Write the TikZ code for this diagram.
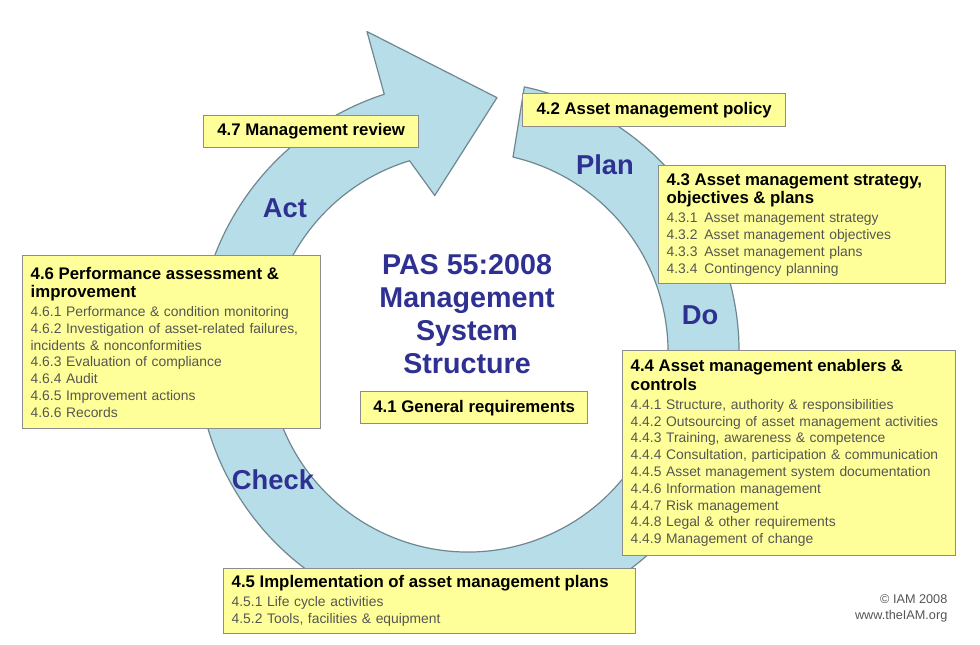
\documentclass[tikz,border=0pt]{standalone}
\usepackage{fontspec}
\setmainfont{Liberation Sans}
\usepackage{xcolor}
\usepackage{tikz}
\usetikzlibrary{positioning}
\definecolor{PasRing}{HTML}{B7DEE8}
\definecolor{PasRingEdge}{HTML}{6F8791}
\definecolor{PasYellow}{HTML}{FFFF99}
\definecolor{PasEdge}{HTML}{8C8C8C}
\definecolor{PasNavy}{HTML}{2E3192}
\definecolor{PasGrey}{HTML}{555555}
\newcommand{\chead}[1]{{\color{black}\fontsize{12.6}{12.6}\selectfont\bfseries #1}}
\tikzset{
  clausebox/.style={draw=PasEdge,line width=1pt,fill=PasYellow,anchor=north west,inner xsep=6pt,inner ysep=0pt,align=left,text=PasGrey,font=\fontsize{10.4}{12.6}\selectfont},
  headbox/.style={clausebox,align=center,minimum height=24pt},
  phaselabel/.style={text=PasNavy,font=\fontsize{20.5}{24}\selectfont\bfseries},
  pastitle/.style={text=PasNavy,align=center,font=\fontsize{21.5}{24.75}\selectfont\bfseries},
  ringarrow/.style={fill=PasRing,draw=PasRingEdge,line width=0.9pt,line join=round},
  creditnote/.style={text=PasGrey,align=right,anchor=east,font=\fontsize{9.5}{12}\selectfont}
}

\begin{document}
\begin{tikzpicture}[x=0.75pt,y=0.75pt]
\useasboundingbox[fill=white] (0,0) rectangle (980,-645);
\begin{scope}[shift={(468,-352)}]
\path[ringarrow] (78:271) arc[start angle=78,end angle=-252,radius=271] -- (107.5:336) -- (83.5:256) -- (102:160) -- (-253:200) arc[start angle=-253,end angle=77,radius=200] -- cycle;
\end{scope}
\node[pastitle] (title) at (467,-314) {PAS 55:2008\\Management\\System\\Structure};
\node[phaselabel] (plan) at (605,-165) {Plan};
\node[phaselabel] (do) at (700,-315) {Do};
\node[phaselabel] (check) at (273,-480) {Check};
\node[phaselabel] (act) at (285,-208) {Act};
\node[headbox,text width=149.25pt] (c47) at (203,-115) {\chead{4.7 Management review}};
\node[headbox,text width=185.25pt,minimum height=24.75pt] (c42) at (522,-93) {\chead{4.2 Asset management policy}};
\node[headbox,text width=158.25pt] (c41) at (360,-391) {\chead{4.1 General requirements}};
\node[clausebox,text width=203.25pt,minimum height=88.5pt] (c43) at (658,-165) {\chead{4.3 Asset management strategy,}\\[1.3pt]
\chead{objectives \& plans}\\[1.6pt]
4.3.1\enspace Asset management strategy\\
4.3.2\enspace Asset management objectives\\
4.3.3\enspace Asset management plans\\
4.3.4\enspace Contingency planning};
\node[clausebox,text width=211.5pt,minimum height=129.75pt] (c46) at (22,-255) {\chead{4.6 Performance assessment \&}\\[1.3pt]
\chead{improvement}\\[1.6pt]
4.6.1 Performance \& condition monitoring\\
4.6.2 Investigation of asset-related failures,\\
incidents \& nonconformities\\
4.6.3 Evaluation of compliance\\
4.6.4 Audit\\
4.6.5 Improvement actions\\
4.6.6 Records};
\node[clausebox,text width=237.75pt,minimum height=153.75pt] (c44) at (622,-350) {\chead{4.4 Asset management enablers \&}\\[1.3pt]
\chead{controls}\\[1.6pt]
4.4.1 Structure, authority \& responsibilities\\
4.4.2 Outsourcing of asset management activities\\
4.4.3 Training, awareness \& competence\\
4.4.4 Consultation, participation \& communication\\
4.4.5 Asset management system documentation\\
4.4.6 Information management\\
4.4.7 Risk management\\
4.4.8 Legal \& other requirements\\
4.4.9 Management of change};
\node[clausebox,text width=297pt,minimum height=48.75pt] (c45) at (223,-568) {\chead{4.5 Implementation of asset management plans}\\[1.6pt]
4.5.1 Life cycle activities\\
4.5.2 Tools, facilities \& equipment};
\node[creditnote] (credit) at (952,-608) {© IAM 2008\\www.theIAM.org};
\end{tikzpicture}
\end{document}
